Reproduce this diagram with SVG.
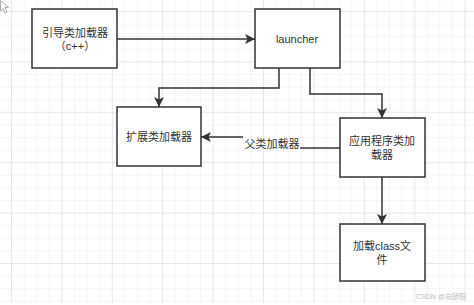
<svg xmlns="http://www.w3.org/2000/svg" width="474" height="305" viewBox="0 0 474 305">
<defs>
<pattern id="gMinor" x="11" y="11" width="12.6" height="12.6" patternUnits="userSpaceOnUse">
<path d="M0 0H12.6M0 0V12.6" fill="none" stroke="#ececec" stroke-width="1"/>
</pattern>
<pattern id="gMajor" x="11" y="11" width="50.4" height="50.4" patternUnits="userSpaceOnUse">
<path d="M0 0H50.4M0 0V50.4" fill="none" stroke="#dcdcdc" stroke-width="1"/>
</pattern>
<marker id="arr" viewBox="0 0 10 10" refX="10" refY="5" markerWidth="10" markerHeight="10" markerUnits="userSpaceOnUse" orient="auto">
<path d="M0 0L10 5L0 10L2.5 5Z" fill="#333"/>
</marker>
</defs>
<style>
.box{fill:#fff;stroke:#333;stroke-width:1.5}
.t{font-family:"Liberation Sans","Noto Sans CJK SC",sans-serif;font-size:11px;fill:#333;text-anchor:middle;dominant-baseline:central}
.c{fill:none;stroke:#333;stroke-width:1.5}
.wm{font-family:"Liberation Sans","Noto Sans CJK SC",sans-serif;font-size:7px;fill:#bbb}
</style>
<rect width="474" height="305" fill="#fff"/>
<rect x="0" y="0" width="474" height="303" fill="url(#gMinor)"/>
<rect x="0" y="0" width="474" height="303" fill="url(#gMajor)"/>
<path d="M0.5 0.5L0.5 11L3 8.5L5 13L7 12L5 7.5L8.5 7.5Z" fill="#fff" stroke="#999" stroke-width="0.8"/>
<g id="connectors">
<path class="c" d="M117 39H255" marker-end="url(#arr)"/>
<path class="c" d="M279 68V88H159V107" marker-end="url(#arr)"/>
<path class="c" d="M310 68V94H382V118" marker-end="url(#arr)"/>
<path class="c" d="M340 148H300"/>
<path class="c" d="M243 137H201" marker-end="url(#arr)"/>
<text class="t" x="272" y="144">父类加载器</text>
<path class="c" d="M382 177V224" marker-end="url(#arr)"/>
</g>
<g id="bootstrap">
<rect class="box" x="32" y="9" width="85" height="59"/>
<text class="t" x="75" y="33">引导类加载器</text>
<text class="t" x="75" y="46">（c++）</text>
</g>
<g id="launcher">
<rect class="box" x="255" y="9" width="85" height="59"/>
<text class="t" x="297" y="39">launcher</text>
</g>
<g id="ext">
<rect class="box" x="117" y="107" width="84" height="59"/>
<text class="t" x="159" y="137">扩展类加载器</text>
</g>
<g id="app">
<rect class="box" x="340" y="118" width="85" height="59"/>
<text class="t" x="382" y="141">应用程序类加</text>
<text class="t" x="382" y="155">载器</text>
</g>
<g id="classfile">
<rect class="box" x="340" y="224" width="85" height="57"/>
<text class="t" x="382" y="246">加载class文</text>
<text class="t" x="382" y="260">件</text>
</g>
<text class="wm" x="416" y="299">CSDN @向骄阳</text>
</svg>
